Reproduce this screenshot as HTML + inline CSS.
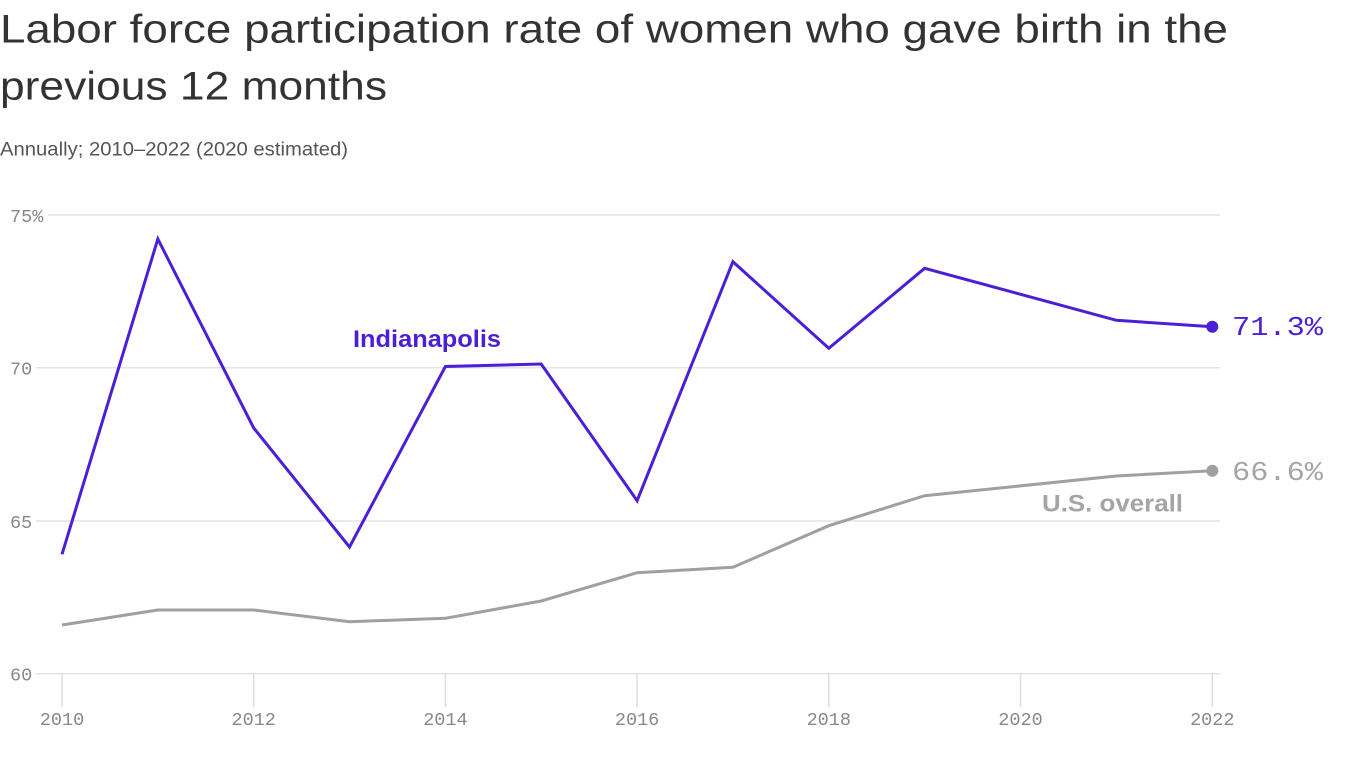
<!DOCTYPE html>
<html>
<head>
<meta charset="utf-8">
<style>
  html, body { margin: 0; padding: 0; background: #ffffff; }
  svg { display: block; }
  .mono { font-family: "Liberation Mono", "DejaVu Sans Mono", monospace; }
  .sans { font-family: "Liberation Sans", "DejaVu Sans", sans-serif; }
</style>
</head>
<body>
<svg width="1366" height="768" viewBox="0 0 1366 768" xmlns="http://www.w3.org/2000/svg">
  <rect x="0" y="0" width="1366" height="768" fill="#ffffff"/>

  <!-- Title -->
  <text class="sans" x="0" y="42.5" font-size="40" fill="#333333" textLength="1228" lengthAdjust="spacingAndGlyphs">Labor force participation rate of women who gave birth in the</text>
  <text class="sans" x="0" y="99.5" font-size="40" fill="#333333" textLength="387" lengthAdjust="spacingAndGlyphs">previous 12 months</text>
  <text class="sans" x="0" y="155.5" font-size="19" fill="#555555" textLength="348" lengthAdjust="spacingAndGlyphs">Annually; 2010–2022 (2020 estimated)</text>

  <!-- Gridlines -->
  <g stroke="#e4e4e4" stroke-width="1.5">
    <line x1="48" y1="215" x2="1220" y2="215"/>
    <line x1="36" y1="367.7" x2="1220" y2="367.7"/>
    <line x1="36" y1="521" x2="1220" y2="521"/>
    <line x1="36" y1="673.7" x2="1220" y2="673.7"/>
  </g>

  <!-- Y labels -->
  <g class="mono" font-size="18.5" fill="#888888">
    <text x="10" y="222">75%</text>
    <text x="10" y="374.5">70</text>
    <text x="10" y="528">65</text>
    <text x="10" y="680.5">60</text>
  </g>

  <!-- X ticks -->
  <g stroke="#dddddd" stroke-width="1.5">
    <line x1="62" y1="674" x2="62" y2="707"/>
    <line x1="253.7" y1="674" x2="253.7" y2="707"/>
    <line x1="445.4" y1="674" x2="445.4" y2="707"/>
    <line x1="637.1" y1="674" x2="637.1" y2="707"/>
    <line x1="828.8" y1="674" x2="828.8" y2="707"/>
    <line x1="1020.5" y1="674" x2="1020.5" y2="707"/>
    <line x1="1212.3" y1="674" x2="1212.3" y2="707"/>
  </g>
  <g class="mono" font-size="18.5" fill="#888888" text-anchor="middle">
    <text x="62" y="725">2010</text>
    <text x="253.7" y="725">2012</text>
    <text x="445.4" y="725">2014</text>
    <text x="637.1" y="725">2016</text>
    <text x="828.8" y="725">2018</text>
    <text x="1020.5" y="725">2020</text>
    <text x="1212.3" y="725">2022</text>
  </g>

  <!-- U.S. overall line -->
  <polyline fill="none" stroke="#a0a0a0" stroke-width="3" stroke-linejoin="miter"
    points="62,625 157.85,610 253.7,610 349.5,621.7 445.4,618.3 541.2,601 637.1,572.7 732.9,567.3 828.8,525.7 924.6,495.7 1116.4,476 1212.3,470.7"/>
  <circle cx="1212.3" cy="470.7" r="6" fill="#a0a0a0"/>

  <!-- Indianapolis line -->
  <polyline fill="none" stroke="#4b1fd6" stroke-width="3" stroke-linejoin="miter"
    points="62,554.3 157.85,239 253.7,428 349.5,547 445.4,366.5 541.2,364 637.1,500.7 732.9,261.7 828.8,348.3 924.6,268.3 1116.4,320.3 1212.3,326.7"/>
  <circle cx="1212.3" cy="326.7" r="6" fill="#4b1fd6"/>

  <!-- Series labels -->
  <text class="sans" x="353" y="347" font-size="24" font-weight="bold" fill="#4b1fd6" textLength="148" lengthAdjust="spacingAndGlyphs">Indianapolis</text>
  <text class="sans" x="1042" y="511.5" font-size="24" font-weight="bold" fill="#a5a5a5" textLength="141" lengthAdjust="spacingAndGlyphs">U.S. overall</text>

  <!-- End value labels -->
  <text class="mono" x="1232" y="335" font-size="27" fill="#4b1fd6" textLength="91" lengthAdjust="spacingAndGlyphs">71.3%</text>
  <text class="mono" x="1232" y="480" font-size="27" fill="#a5a5a5" textLength="91" lengthAdjust="spacingAndGlyphs">66.6%</text>
</svg>
</body>
</html>
